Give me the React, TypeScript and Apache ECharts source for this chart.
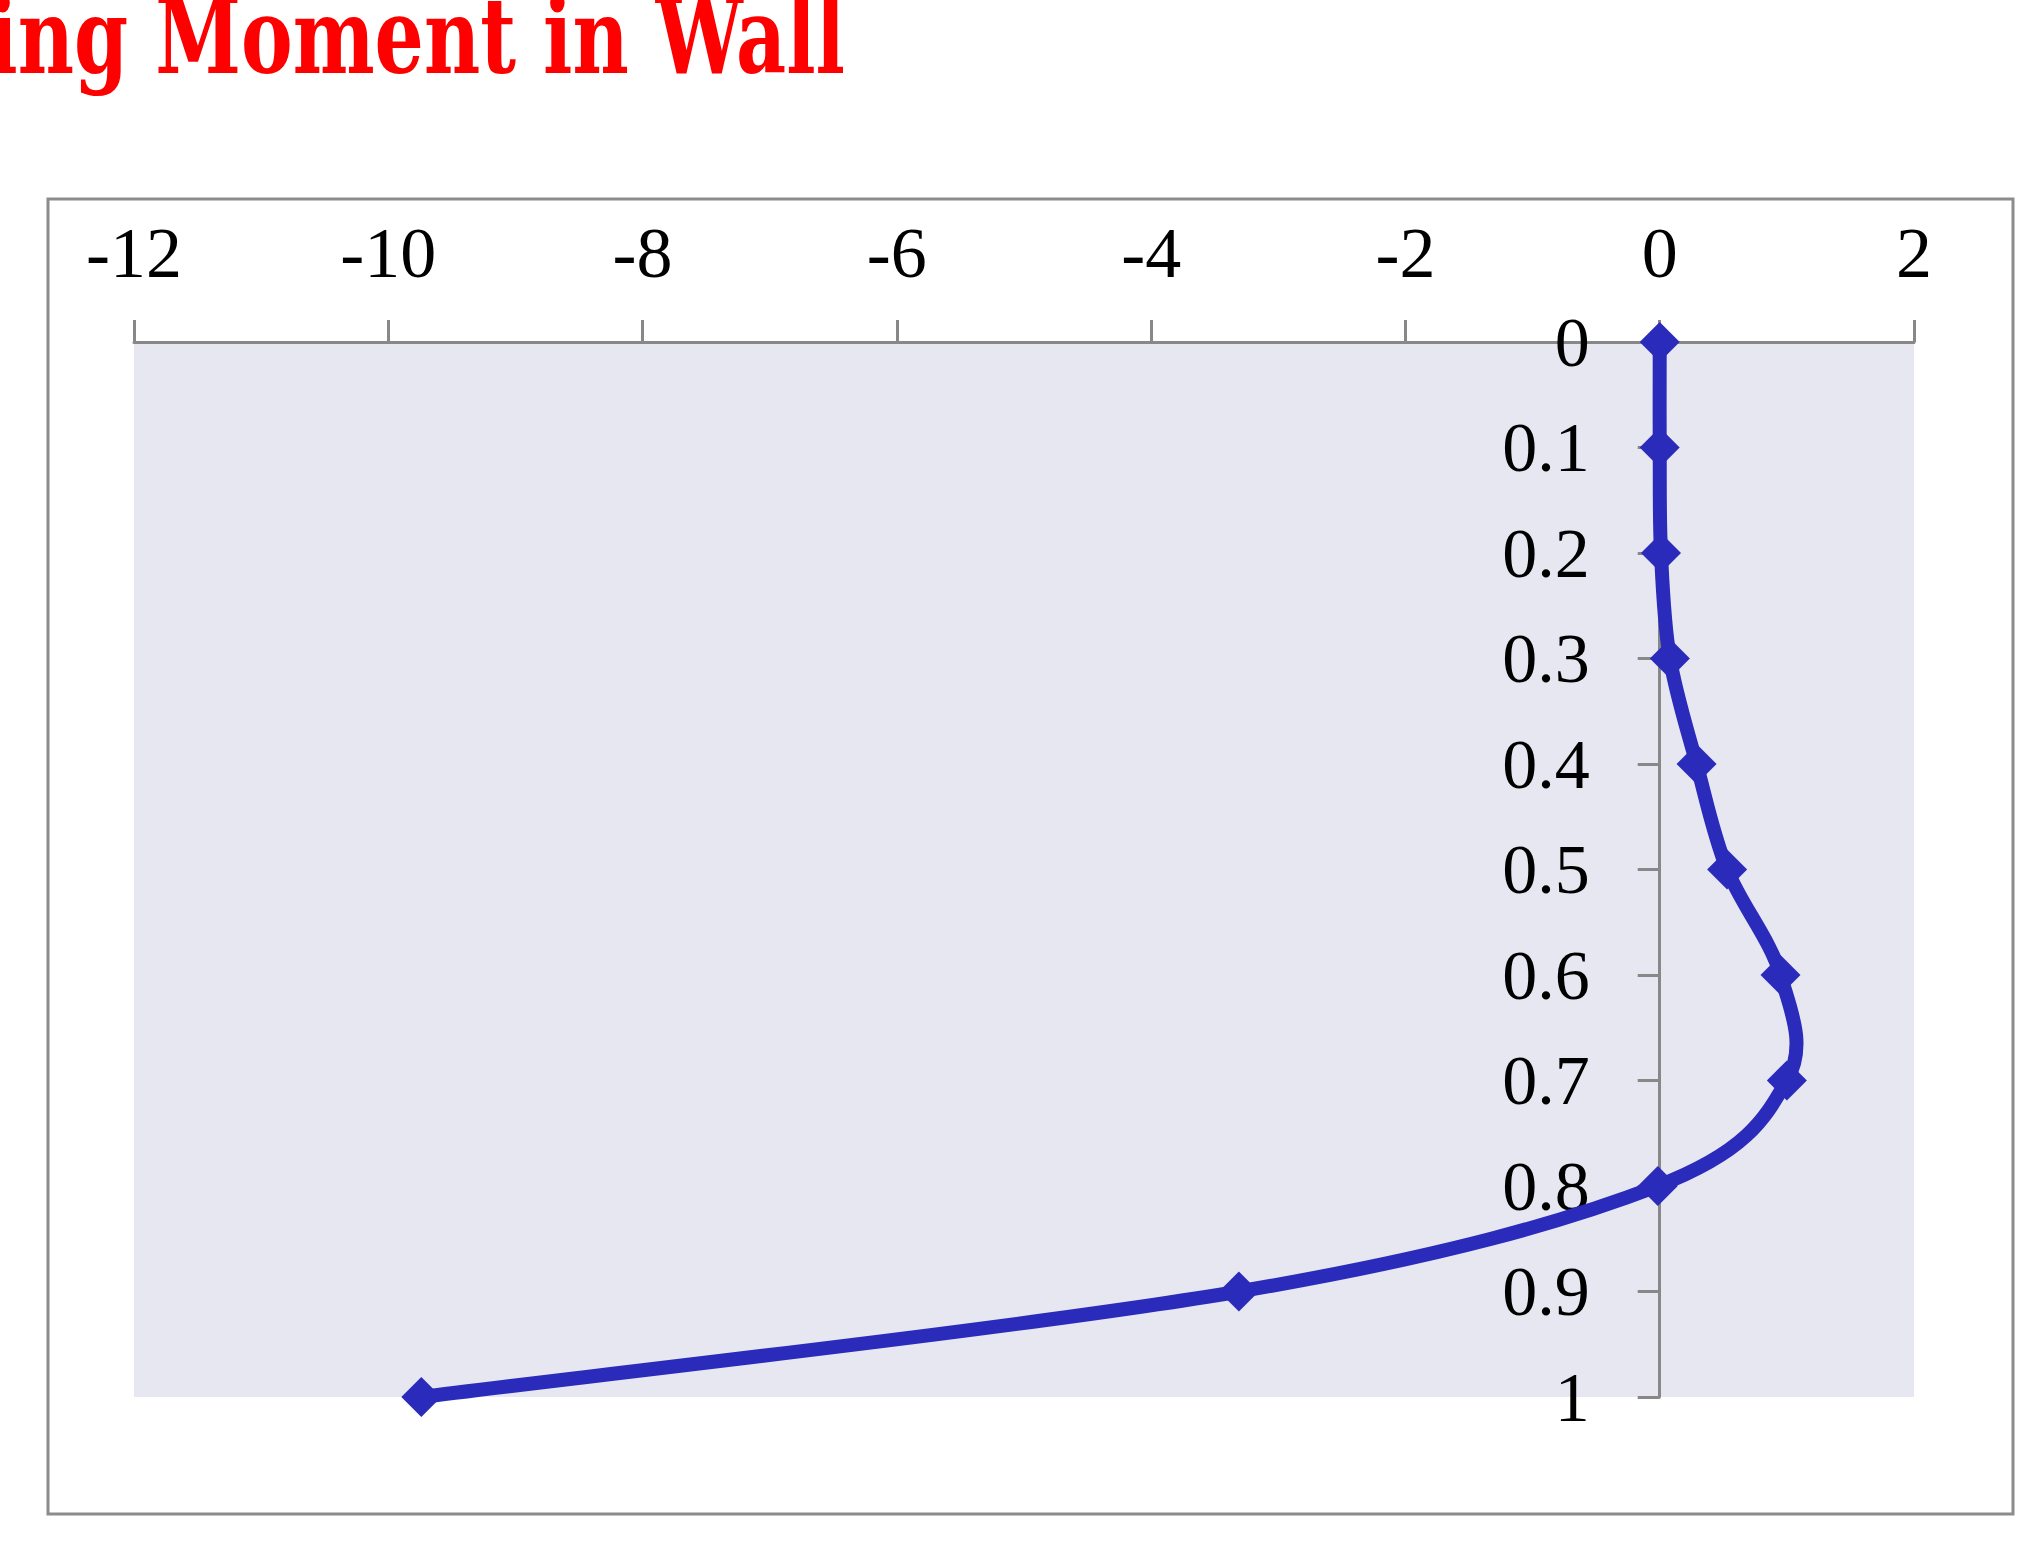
import React, { useEffect, useRef } from "react";
import * as echarts from "echarts";

const titleText = "Bending Moment in Wall";
const depthValues = [0, 0.1, 0.2, 0.3, 0.4, 0.5, 0.6, 0.7, 0.8, 0.9, 1.0];
const momentValues = [0, 0, 0.01, 0.08, 0.29, 0.53, 0.95, 1.0, -0.015, -3.31, -9.74];
const xMin = -12;
const xMax = 2;
const xStep = 2;
const yMin = 0;
const yMax = 1;
const yStep = 0.1;

const W = 2037;
const H = 1550;
const LINE_COLOR = "#2B2BBB";

export default function App() {
  const ref = useRef<HTMLDivElement>(null);
  useEffect(() => {
    if (!ref.current) return;
    const chart = echarts.init(ref.current, null, { renderer: "svg" });
    const data = depthValues.map((d, i) => [momentValues[i], d]);
    const gridLeft = 134;
    const gridRight = 1914;
    const zeroX = gridLeft + ((0 - xMin) / (xMax - xMin)) * (gridRight - gridLeft);

    const renderCurve = (params: any, api: any) => {
      if (params.dataIndex !== 0) return null;
      const pts = data.map((d) => api.coord(d));
      let path = `M${pts[0][0]} ${pts[0][1]}`;
      for (let i = 0; i < pts.length - 1; i++) {
        const p0 = pts[Math.max(i - 1, 0)];
        const p1 = pts[i];
        const p2 = pts[i + 1];
        const p3 = pts[Math.min(i + 2, pts.length - 1)];
        const c1x = p1[0] + (p2[0] - p0[0]) / 6;
        const c1y = p1[1] + (p2[1] - p0[1]) / 6;
        const c2x = p2[0] - (p3[0] - p1[0]) / 6;
        const c2y = p2[1] - (p3[1] - p1[1]) / 6;
        path += ` C${c1x} ${c1y} ${c2x} ${c2y} ${p2[0]} ${p2[1]}`;
      }
      return {
        type: "path",
        shape: { pathData: path },
        style: { stroke: LINE_COLOR, lineWidth: 14, fill: "none", lineJoin: "round" },
        silent: true,
      };
    };

    chart.setOption({
      animation: false,
      backgroundColor: "#ffffff",
      grid: {
        left: gridLeft,
        right: W - gridRight,
        top: 342,
        bottom: H - 1397,
        show: true,
        backgroundColor: "#E6E7F1",
        borderWidth: 0,
        containLabel: false,
        outerBoundsMode: "none",
      },
      xAxis: {
        type: "value",
        position: "top",
        min: xMin,
        max: xMax,
        interval: xStep,
        axisLine: { show: true, onZero: false, lineStyle: { color: "#888888", width: 3 } },
        axisTick: { show: true, inside: false, length: 22, lineStyle: { color: "#888888", width: 3 } },
        axisLabel: {
          color: "#000000",
          fontFamily: "Liberation Serif",
          fontSize: 72,
          margin: 53,
        },
        splitLine: { show: false },
      },
      yAxis: {
        type: "value",
        inverse: true,
        position: "left",
        offset: -(zeroX - gridLeft),
        min: yMin,
        max: yMax,
        interval: yStep,
        axisLine: { show: true, onZero: false, lineStyle: { color: "#888888", width: 3 } },
        axisTick: { show: true, inside: false, length: 22, lineStyle: { color: "#888888", width: 3 } },
        axisLabel: {
          color: "#000000",
          fontFamily: "Liberation Serif",
          fontSize: 70,
          margin: 70,
        },
        splitLine: { show: false },
      },
      graphic: [
        {
          type: "rect",
          shape: { x: 48, y: 199, width: 2013 - 48, height: 1514 - 199 },
          style: { fill: "none", stroke: "#8c8c8c", lineWidth: 3 },
          silent: true,
        },
        {
          type: "text",
          x: 845,
          y: 37,
          scaleX: 0.745,
          scaleY: 1,
          style: {
            text: titleText,
            fill: "#FF0000",
            fontFamily: "DejaVu Serif",
            fontWeight: "bold",
            fontSize: 104,
            textAlign: "right",
            textVerticalAlign: "middle",
          },
          silent: true,
        },
      ],
      series: [
        {
          type: "custom",
          data,
          encode: { x: 0, y: 1 },
          renderItem: renderCurve,
          z: 2,
          clip: false,
        },
        {
          type: "scatter",
          data,
          symbol: "diamond",
          symbolSize: 40,
          itemStyle: { color: LINE_COLOR, opacity: 1 },
          z: 3,
        },
      ],
    });
    return () => chart.dispose();
  }, []);
  return (
    <div
      ref={ref}
      style={{ position: "fixed", left: 0, top: 0, width: W, height: H, background: "#fff" }}
    />
  );
}
